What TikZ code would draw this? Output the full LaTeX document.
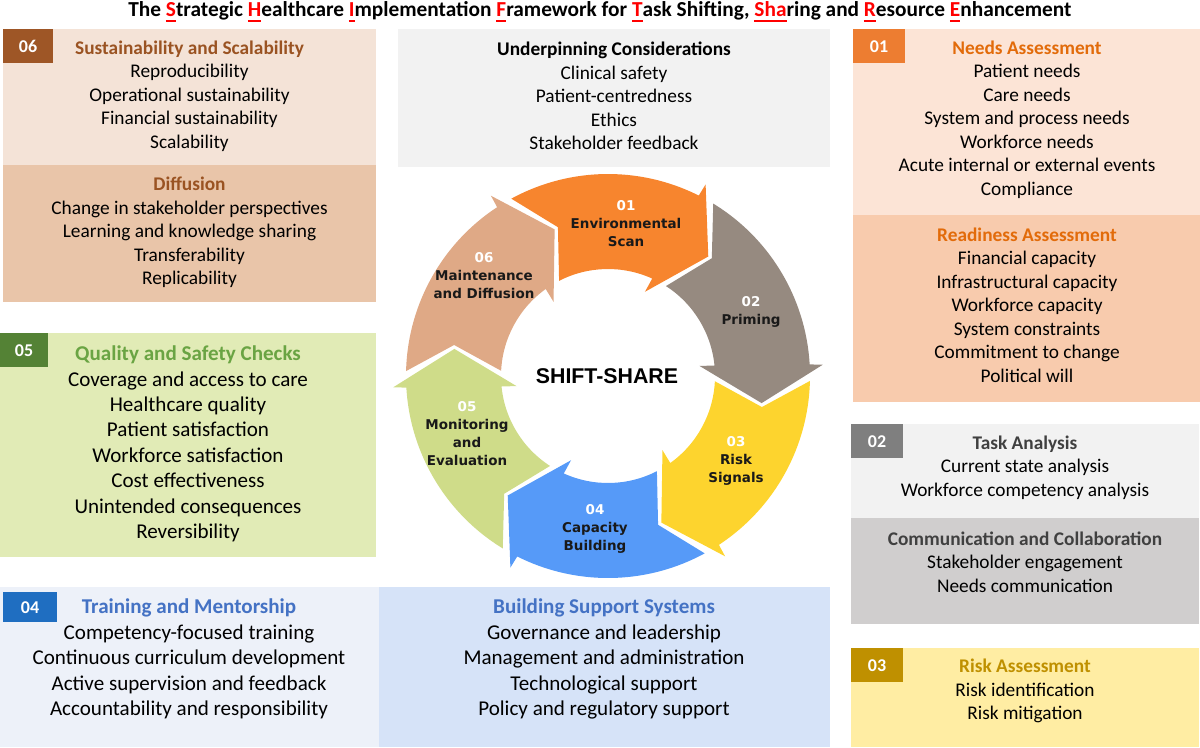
\documentclass[tikz,border=0pt]{standalone}
\usepackage{fontspec}
\setmainfont{Carlito}
\newfontfamily\cycfont{DejaVu Sans}
\newfontfamily\shfont{Liberation Sans}
\definecolor{c06a}{HTML}{F4E3D7}
\definecolor{c06b}{HTML}{E9C5A9}
\definecolor{c06d}{HTML}{9E5626}
\definecolor{c06t}{HTML}{9A5322}
\definecolor{cUp}{HTML}{F2F2F2}
\definecolor{c01a}{HTML}{FCE4D6}
\definecolor{c01b}{HTML}{F8CBAD}
\definecolor{c01d}{HTML}{ED7D31}
\definecolor{c01t}{HTML}{E26B0A}
\definecolor{c02a}{HTML}{F2F2F2}
\definecolor{c02b}{HTML}{D0CECE}
\definecolor{c02d}{HTML}{7F7F7F}
\definecolor{c02t}{HTML}{404040}
\definecolor{c03}{HTML}{FFEDA3}
\definecolor{c03d}{HTML}{BF9000}
\definecolor{c05}{HTML}{E1EBB6}
\definecolor{c05d}{HTML}{548235}
\definecolor{c05t}{HTML}{6AA443}
\definecolor{c04a}{HTML}{EDF1F9}
\definecolor{c04b}{HTML}{D6E3F8}
\definecolor{c04d}{HTML}{1F6EC1}
\definecolor{c04t}{HTML}{4472C4}
\definecolor{cyA}{HTML}{F7852E}
\definecolor{cyB}{HTML}{968A80}
\definecolor{cyC}{HTML}{FDD42E}
\definecolor{cyD}{HTML}{569AF8}
\definecolor{cyE}{HTML}{CFDC89}
\definecolor{cyF}{HTML}{DFA986}
\newcommand\redul[1]{\textcolor{red}{\setbox0\hbox{#1}\rlap{\raisebox{-3.8pt}{\rule{\wd0}{1.4pt}}}\box0}}
\tikzset{
  every node/.style={inner sep=0pt},
  badgetext/.style={text=white, font=\bfseries\fontsize{13.5}{15}\selectfont},
  item/.style={align=center, font=\fontsize{14.5}{17.6}\selectfont},
  itemL/.style={align=center, font=\fontsize{15.8}{19.1}\selectfont},
  cyc/.style={align=center, text=black!90, font=\cycfont\bfseries\fontsize{10.1}{13.5}\selectfont},
}
\begin{document}
\begin{tikzpicture}[x=0.75pt,y=-0.75pt]
\useasboundingbox (0,0) rectangle (1200,747);
% title
\node[anchor=base, font=\bfseries\fontsize{16}{18}\selectfont] (title) at (600,16.5)
 {The \redul{S}trategic \redul{H}ealthcare \redul{I}mplementation \redul{F}ramework for \redul{T}ask Shifting, \redul{Sha}ring and \redul{R}esource \redul{E}nhancement};
% backgrounds
\fill[c06a] (3,29) rectangle (376,165);
\fill[c06b] (3,165) rectangle (376,302);
\fill[cUp] (398,29) rectangle (830,167);
\fill[c01a] (853,29) rectangle (1200,215);
\fill[c01b] (853,215) rectangle (1200,402);
\fill[c02a] (851,424) rectangle (1199,518);
\fill[c02b] (851,518) rectangle (1199,624);
\fill[c03] (851,648) rectangle (1199,747);
\fill[c05] (0,333) rectangle (376,557);
\fill[c04a] (0,587) rectangle (379,747);
\fill[c04b] (379,587) rectangle (830,747);
% badges
\fill[c06d] (3,29) rectangle (53,63);
\node[badgetext] (b06) at (28,46.5) {06};
\fill[c01d] (853,29) rectangle (905,63);
\node[badgetext] (b01) at (879,46.5) {01};
\fill[c02d] (851,424) rectangle (903,458);
\node[badgetext] (b02) at (877,441.5) {02};
\fill[c03d] (851,648) rectangle (903,682);
\node[badgetext] (b03) at (877,665.5) {03};
\fill[c05d] (0,333) rectangle (48,367);
\node[badgetext] (b05) at (24,350.5) {05};
\fill[c04d] (3,592) rectangle (57,622);
\node[badgetext] (b04) at (30,607.5) {04};
% box texts
\node[item] (t06a) at (189.5,96) {\textcolor{c06t}{\bfseries Sustainability and Scalability}\\Reproducibility\\Operational sustainability\\Financial sustainability\\Scalability};
\node[item] (t06b) at (189.5,232.5) {\textcolor{c06t}{\bfseries Diffusion}\\Change in stakeholder perspectives\\Learning and knowledge sharing\\Transferability\\Replicability};
\node[item] (tup) at (614,96) {\textbf{Underpinning Considerations}\\Clinical safety\\Patient-centredness\\Ethics\\Stakeholder feedback};
\node[item] (t01a) at (1027,119.5) {\textcolor{c01t}{\bfseries Needs Assessment}\\Patient needs\\Care needs\\System and process needs\\Workforce needs\\Acute internal or external events\\Compliance};
\node[item] (t01b) at (1027,305) {\textcolor{c01t}{\bfseries Readiness Assessment}\\Financial capacity\\Infrastructural capacity\\Workforce capacity\\System constraints\\Commitment to change\\Political will};
\node[item] (t02a) at (1025,467.5) {\textcolor{c02t}{\bfseries Task Analysis}\\Current state analysis\\Workforce competency analysis};
\node[item] (t02b) at (1025,562) {\textcolor{c02t}{\bfseries Communication and Collaboration}\\Stakeholder engagement\\Needs communication};
\node[item] (t03) at (1025,691) {\textcolor{c03d}{\bfseries Risk Assessment}\\Risk identification\\Risk mitigation};
\node[itemL] (t05) at (188,444) {\textcolor{c05t}{\bfseries Quality and Safety Checks}\\Coverage and access to care\\Healthcare quality\\Patient satisfaction\\Workforce satisfaction\\Cost effectiveness\\Unintended consequences\\Reversibility};
\node[itemL] (t04a) at (189,659) {\textcolor{c04t}{\bfseries Training and Mentorship}\\Competency-focused training\\Continuous curriculum development\\Active supervision and feedback\\Accountability and responsibility};
\node[itemL] (t04b) at (604,659) {\textcolor{c04t}{\bfseries Building Support Systems}\\Governance and leadership\\Management and administration\\Technological support\\Policy and regulatory support};
% cycle
\begin{scope}[shift={(608,376)}, x=0.75pt, y=0.75pt]
\foreach \t/\c in {0/cyA, -60/cyB, -120/cyC, -180/cyD, -240/cyE, -300/cyF}{
  \fill[\c] ({\t+118.6}:202) arc[start angle={\t+118.6}, end angle={\t+63.3}, radius=202]
    -- ({\t+63}:215) -- ({\t+50}:156) -- ({\t+66.3}:92) -- ({\t+65.6}:107)
    arc[start angle={\t+65.6}, end angle={\t+117.2}, radius=107]
    -- ({\t+108.6}:157) -- cycle;
}
\end{scope}
\node[font=\shfont\bfseries\fontsize{16}{18}\selectfont] (ss) at (607,376) {SHIFT-SHARE};
\node[cyc] (l01) at (626,224) {\textcolor{white}{01}\\Environmental\\Scan};
\node[cyc] (l02) at (751,311.5) {\textcolor{white}{02}\\Priming};
\node[cyc] (l03) at (736,461) {\textcolor{white}{03}\\Risk\\Signals};
\node[cyc] (l04) at (595,529) {\textcolor{white}{04}\\Capacity\\Building};
\node[cyc] (l05) at (467,434) {\textcolor{white}{05}\\Monitoring\\and\\Evaluation};
\node[cyc] (l06) at (484,276) {\textcolor{white}{06}\\Maintenance\\and Diffusion};
\end{tikzpicture}
\end{document}
